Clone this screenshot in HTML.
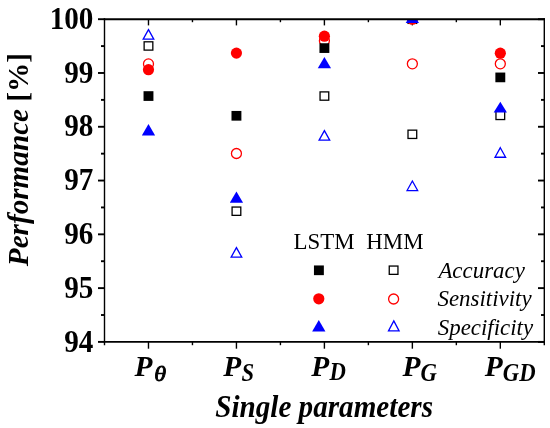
<!DOCTYPE html>
<html><head><meta charset="utf-8"><style>
html,body{margin:0;padding:0;background:#fff;}
body{width:550px;height:428px;overflow:hidden;}
svg{display:block;}
text{font-family:"Liberation Serif","Times New Roman",serif;fill:#000;}
.tl{font-weight:bold;font-size:31px;}
.bi{font-weight:bold;font-style:italic;}
.lg{font-size:22.9px;}
.it{font-style:italic;}
</style></head><body>
<svg width="550" height="428" viewBox="0 0 550 428">
<rect width="550" height="428" fill="#fff"/>
<defs><clipPath id="cp"><rect x="104.5" y="19.2" width="439.80" height="322.70"/></clipPath></defs>
<line x1="98" y1="341.90" x2="104.5" y2="341.90" stroke="#000" stroke-width="1.9"/>
<line x1="538.00" y1="341.90" x2="544.3" y2="341.90" stroke="#000" stroke-width="1.9"/>
<line x1="98" y1="288.12" x2="104.5" y2="288.12" stroke="#000" stroke-width="1.9"/>
<line x1="538.00" y1="288.12" x2="544.3" y2="288.12" stroke="#000" stroke-width="1.9"/>
<line x1="98" y1="234.33" x2="104.5" y2="234.33" stroke="#000" stroke-width="1.9"/>
<line x1="538.00" y1="234.33" x2="544.3" y2="234.33" stroke="#000" stroke-width="1.9"/>
<line x1="98" y1="180.55" x2="104.5" y2="180.55" stroke="#000" stroke-width="1.9"/>
<line x1="538.00" y1="180.55" x2="544.3" y2="180.55" stroke="#000" stroke-width="1.9"/>
<line x1="98" y1="126.77" x2="104.5" y2="126.77" stroke="#000" stroke-width="1.9"/>
<line x1="538.00" y1="126.77" x2="544.3" y2="126.77" stroke="#000" stroke-width="1.9"/>
<line x1="98" y1="72.98" x2="104.5" y2="72.98" stroke="#000" stroke-width="1.9"/>
<line x1="538.00" y1="72.98" x2="544.3" y2="72.98" stroke="#000" stroke-width="1.9"/>
<line x1="98" y1="19.20" x2="104.5" y2="19.20" stroke="#000" stroke-width="1.9"/>
<line x1="538.00" y1="19.20" x2="544.3" y2="19.20" stroke="#000" stroke-width="1.9"/>
<line x1="101" y1="315.01" x2="104.5" y2="315.01" stroke="#000" stroke-width="1.9"/>
<line x1="541.00" y1="315.01" x2="544.3" y2="315.01" stroke="#000" stroke-width="1.9"/>
<line x1="101" y1="261.22" x2="104.5" y2="261.22" stroke="#000" stroke-width="1.9"/>
<line x1="541.00" y1="261.22" x2="544.3" y2="261.22" stroke="#000" stroke-width="1.9"/>
<line x1="101" y1="207.44" x2="104.5" y2="207.44" stroke="#000" stroke-width="1.9"/>
<line x1="541.00" y1="207.44" x2="544.3" y2="207.44" stroke="#000" stroke-width="1.9"/>
<line x1="101" y1="153.66" x2="104.5" y2="153.66" stroke="#000" stroke-width="1.9"/>
<line x1="541.00" y1="153.66" x2="544.3" y2="153.66" stroke="#000" stroke-width="1.9"/>
<line x1="101" y1="99.88" x2="104.5" y2="99.88" stroke="#000" stroke-width="1.9"/>
<line x1="541.00" y1="99.88" x2="544.3" y2="99.88" stroke="#000" stroke-width="1.9"/>
<line x1="101" y1="46.09" x2="104.5" y2="46.09" stroke="#000" stroke-width="1.9"/>
<line x1="541.00" y1="46.09" x2="544.3" y2="46.09" stroke="#000" stroke-width="1.9"/>
<line x1="148.48" y1="341.9" x2="148.48" y2="348.7" stroke="#000" stroke-width="1.4"/>
<line x1="148.48" y1="19.2" x2="148.48" y2="25.4" stroke="#000" stroke-width="1.4"/>
<line x1="236.44" y1="341.9" x2="236.44" y2="348.7" stroke="#000" stroke-width="1.4"/>
<line x1="236.44" y1="19.2" x2="236.44" y2="25.4" stroke="#000" stroke-width="1.4"/>
<line x1="324.40" y1="341.9" x2="324.40" y2="348.7" stroke="#000" stroke-width="1.4"/>
<line x1="324.40" y1="19.2" x2="324.40" y2="25.4" stroke="#000" stroke-width="1.4"/>
<line x1="412.36" y1="341.9" x2="412.36" y2="348.7" stroke="#000" stroke-width="1.4"/>
<line x1="412.36" y1="19.2" x2="412.36" y2="25.4" stroke="#000" stroke-width="1.4"/>
<line x1="500.32" y1="341.9" x2="500.32" y2="348.7" stroke="#000" stroke-width="1.4"/>
<line x1="500.32" y1="19.2" x2="500.32" y2="25.4" stroke="#000" stroke-width="1.4"/>
<line x1="192.46" y1="341.9" x2="192.46" y2="345.2" stroke="#000" stroke-width="1.4"/>
<line x1="192.46" y1="19.2" x2="192.46" y2="22.2" stroke="#000" stroke-width="1.4"/>
<line x1="280.42" y1="341.9" x2="280.42" y2="345.2" stroke="#000" stroke-width="1.4"/>
<line x1="280.42" y1="19.2" x2="280.42" y2="22.2" stroke="#000" stroke-width="1.4"/>
<line x1="368.38" y1="341.9" x2="368.38" y2="345.2" stroke="#000" stroke-width="1.4"/>
<line x1="368.38" y1="19.2" x2="368.38" y2="22.2" stroke="#000" stroke-width="1.4"/>
<line x1="456.34" y1="341.9" x2="456.34" y2="345.2" stroke="#000" stroke-width="1.4"/>
<line x1="456.34" y1="19.2" x2="456.34" y2="22.2" stroke="#000" stroke-width="1.4"/>
<g clip-path="url(#cp)">
<rect x="144.13" y="41.80" width="8.70" height="8.30" fill="none" stroke="#000" stroke-width="1.3"/>
<rect x="232.09" y="207.05" width="8.70" height="8.30" fill="none" stroke="#000" stroke-width="1.3"/>
<rect x="320.05" y="91.90" width="8.70" height="8.30" fill="none" stroke="#000" stroke-width="1.3"/>
<rect x="408.01" y="130.15" width="8.70" height="8.30" fill="none" stroke="#000" stroke-width="1.3"/>
<rect x="495.97" y="111.25" width="8.70" height="8.30" fill="none" stroke="#000" stroke-width="1.3"/>
<circle cx="148.48" cy="63.90" r="5.0" fill="none" stroke="#f00" stroke-width="1.3"/>
<circle cx="236.44" cy="153.50" r="5.0" fill="none" stroke="#f00" stroke-width="1.3"/>
<circle cx="324.40" cy="40.70" r="5.0" fill="none" stroke="#f00" stroke-width="1.3"/>
<circle cx="412.36" cy="63.80" r="5.0" fill="none" stroke="#f00" stroke-width="1.3"/>
<circle cx="500.32" cy="63.80" r="5.0" fill="none" stroke="#f00" stroke-width="1.3"/>
<polygon points="148.48,29.61 153.78,39.15 143.18,39.15" fill="none" stroke="#00f" stroke-width="1.3" stroke-linejoin="miter"/>
<polygon points="236.44,247.61 241.74,257.15 231.14,257.15" fill="none" stroke="#00f" stroke-width="1.3" stroke-linejoin="miter"/>
<polygon points="324.40,130.61 329.70,140.15 319.10,140.15" fill="none" stroke="#00f" stroke-width="1.3" stroke-linejoin="miter"/>
<polygon points="412.36,181.01 417.66,190.55 407.06,190.55" fill="none" stroke="#00f" stroke-width="1.3" stroke-linejoin="miter"/>
<polygon points="500.32,147.71 505.62,157.25 495.02,157.25" fill="none" stroke="#00f" stroke-width="1.3" stroke-linejoin="miter"/>
<rect x="143.53" y="91.20" width="9.9" height="9.7" fill="#000"/>
<rect x="231.49" y="110.95" width="9.9" height="9.7" fill="#000"/>
<rect x="319.45" y="43.25" width="9.9" height="9.7" fill="#000"/>
<rect x="407.41" y="14.35" width="9.9" height="9.7" fill="#000"/>
<rect x="495.37" y="72.55" width="9.9" height="9.7" fill="#000"/>
<circle cx="148.48" cy="69.70" r="5.6" fill="#f00"/>
<circle cx="236.44" cy="53.10" r="5.6" fill="#f00"/>
<circle cx="324.40" cy="36.20" r="5.6" fill="#f00"/>
<circle cx="412.36" cy="19.20" r="5.6" fill="#f00"/>
<circle cx="500.32" cy="53.20" r="5.6" fill="#f00"/>
<polygon points="148.48,124.00 155.13,135.40 141.83,135.40" fill="#00f"/>
<polygon points="236.44,191.50 243.09,202.80 229.79,202.80" fill="#00f"/>
<polygon points="324.40,57.00 331.05,68.30 317.75,68.30" fill="#00f"/>
<polygon points="412.36,11.80 419.01,23.10 405.71,23.10" fill="#00f"/>
<polygon points="500.32,101.70 506.97,112.60 493.67,112.60" fill="#00f"/>
</g>
<line x1="103.80" y1="19.2" x2="545.00" y2="19.2" stroke="#000" stroke-width="1.9"/>
<line x1="103.80" y1="341.9" x2="545.00" y2="341.9" stroke="#000" stroke-width="1.9"/>
<line x1="104.5" y1="18.25" x2="104.5" y2="345.20" stroke="#000" stroke-width="1.4"/>
<line x1="544.3" y1="18.25" x2="544.3" y2="345.20" stroke="#000" stroke-width="1.4"/>
<text class="tl" text-anchor="end" transform="translate(93.4,351.50) scale(0.94,1)">94</text>
<text class="tl" text-anchor="end" transform="translate(93.4,297.72) scale(0.94,1)">95</text>
<text class="tl" text-anchor="end" transform="translate(93.4,243.93) scale(0.94,1)">96</text>
<text class="tl" text-anchor="end" transform="translate(93.4,190.15) scale(0.94,1)">97</text>
<text class="tl" text-anchor="end" transform="translate(93.4,136.37) scale(0.94,1)">98</text>
<text class="tl" text-anchor="end" transform="translate(93.4,82.58) scale(0.94,1)">99</text>
<text class="tl" text-anchor="end" transform="translate(93.4,28.80) scale(0.94,1)">100</text>
<text class="bi" font-size="29.2" transform="translate(27.9,266.2) rotate(-90)">Performance <tspan font-style="normal">[%]</tspan></text>
<text class="bi" font-size="29.4" x="134.4" y="375.8">P</text>
<text class="bi" font-size="29.4" x="223.3" y="375.8">P</text>
<text class="bi" font-size="29.4" x="311.3" y="375.8">P</text>
<text class="bi" font-size="29.4" x="402.4" y="375.8">P</text>
<text class="bi" font-size="29.4" x="484.7" y="375.8">P</text>
<text font-style="italic" font-size="21.3" stroke="#000" stroke-width="0.8" transform="translate(154.2,380.6) scale(1.13,1)">θ</text>
<text class="bi" font-size="24.4" transform="translate(241.5,381.0) scale(0.93,1)">S</text>
<text class="bi" font-size="24.4" transform="translate(329.5,380.4) scale(0.93,1)">D</text>
<text class="bi" font-size="24.4" transform="translate(420.5,380.7) scale(0.93,1)">G</text>
<text class="bi" font-size="24.4" transform="translate(502.8,380.5) scale(0.93,1)">GD</text>
<text class="bi" font-size="31" transform="translate(215.2,417) scale(0.941,1)">Single parameters</text>
<text class="lg" x="293.5" y="249.0">LSTM</text>
<text class="lg" x="366.3" y="249.0">HMM</text>
<text class="lg it" x="438.4" y="277.9">Accuracy</text>
<text class="lg it" x="437.5" y="306.3">Sensitivity</text>
<text class="lg it" x="437.8" y="334.6">Specificity</text>
<rect x="313.95" y="265.45" width="9.9" height="9.7" fill="#000"/>
<rect x="389.25" y="266.05" width="8.7" height="8.3" fill="none" stroke="#000" stroke-width="1.3"/>
<circle cx="318.8" cy="298.8" r="5.6" fill="#f00"/>
<circle cx="393.6" cy="299" r="5.0" fill="none" stroke="#f00" stroke-width="1.3"/>
<polygon points="318.8,320 325.45,331.6 312.15,331.6" fill="#00f"/>
<polygon points="393.80,320.91 399.10,330.85 388.50,330.85" fill="none" stroke="#00f" stroke-width="1.3" stroke-linejoin="miter"/>
</svg>
</body></html>
